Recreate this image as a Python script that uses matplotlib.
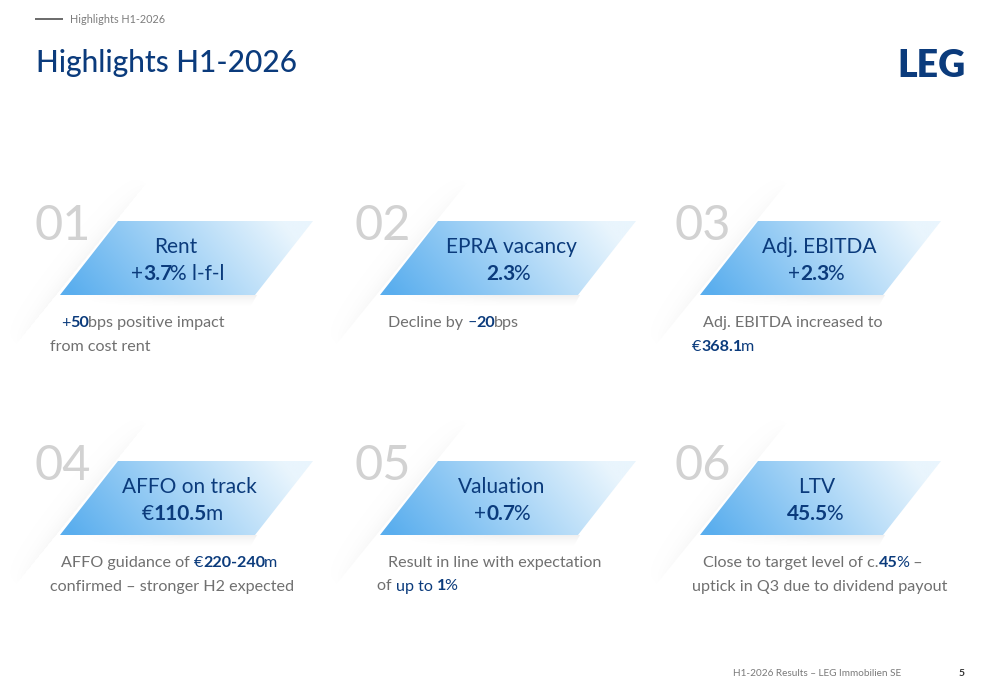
import numpy as np
import matplotlib
matplotlib.use("Agg")
import matplotlib.pyplot as plt
from matplotlib.patches import Polygon
from matplotlib.colors import to_rgb

# ---- slide content ----
card_numbers = ["01", "02", "03", "04", "05", "06"]
card_titles = ["Rent", "EPRA vacancy", "Adj. EBITDA", "AFFO on track", "Valuation", "LTV"]
value_prefix = ["+", "", "+", "€", "+", ""]
card_values = ["3.7", "2.3", "2.3", "110.5", "0.7", "45.5"]
value_suffix = ["% l-f-l", "%", "%", "m", "%", "%"]

# note lines: list of (text, style) runs; g = grey, n = navy, b = navy bold
card_notes = [
    [[("+", "n"), ("50", "b"), ("bps positive impact", "g")],
     [("from cost rent", "g")]],
    [[("Decline by ", "g"), ("–", "n"), ("20", "b"), ("bps", "g")]],
    [[("Adj. EBITDA increased to", "g")],
     [("€", "n"), ("368.1", "b"), ("m", "n")]],
    [[("AFFO guidance of ", "g"), ("€", "n"), ("220-240", "b"), ("m", "n")],
     [("confirmed – stronger H2 expected", "g")]],
    [[("Result in line with expectation", "g")],
     [("of ", "g"), ("up to ", "n"), ("1", "b"), ("%", "n")]],
    [[("Close to target level of c.", "g"), ("45", "b"), ("%", "n"), (" –", "g")],
     [("uptick in Q3 due to dividend payout", "g")]],
]

header_text = "Highlights H1-2026"
footer_text = "H1-2026 Results – LEG Immobilien SE"
page_no = "5"

# ---- layout (pixel coords, y down) ----
W, H = 1000, 685
col_dx = [0, 320, 640]
row_dy = [0, 240]
card_w = [195, 198, 183]
title_cx = [176, 511, 819, 189, 502, 817]
value_cx = [178, 508, 816, 182, 502, 815]
note_x = [50, 377, 692]

FONT = ["Lato", "DejaVu Sans"]
NAVY = "#0b3b7c"
GREY = "#707070"
NUMGREY = "#d2d2d2"
BLUE_DARK = "#5aaeee"
BLUE_LIGHT = "#e9f5fd"

fig = plt.figure(figsize=(10, 6.85), dpi=100)
ax = fig.add_axes([0, 0, 1, 1])
renderer = fig.canvas.get_renderer()

STYLES = {
    "g": dict(color=GREY, fontweight="normal"),
    "n": dict(color=NAVY, fontweight="normal"),
    "b": dict(color=NAVY, fontweight="bold"),
}


def run_width(s, **kw):
    # measure with guard bars so leading/trailing spaces count
    t = ax.text(0, 0, "|" + s + "|", **kw)
    bar = ax.text(0, 0, "||", **kw)
    w = t.get_window_extent(renderer).width - bar.get_window_extent(renderer).width
    t.remove()
    bar.remove()
    return w


def draw_runs(runs, x, y, size, center=False):
    kws = [dict(family=FONT, fontsize=size, **STYLES[st]) for _, st in runs]
    widths = [run_width(s, **kw) for (s, _), kw in zip(runs, kws)]
    # Lato digits are tabular: tighten the gap after bold figures
    for j, (s, st) in enumerate(runs[:-1]):
        if st == "b" and s[-1].isdigit():
            widths[j] -= 0.13 * size
    if center:
        x = x - sum(widths) / 2
    for (s, _), kw, w in zip(runs, kws, widths):
        ax.text(x, y, s, ha="left", va="baseline", zorder=3, **kw)
        x += w


def gradient_patch(verts, rgba_fn, zorder=1):
    verts = np.asarray(verts, float)
    x0, y0 = verts.min(axis=0)
    x1, y1 = verts.max(axis=0)
    nx, ny = int(x1 - x0) + 2, int(y1 - y0) + 2
    X, Y = np.meshgrid(np.linspace(x0, x1, nx), np.linspace(y0, y1, ny))
    img = rgba_fn(X, Y, x0, x1, y0, y1)
    im = ax.imshow(img, extent=(x0, x1, y1, y0), origin="upper",
                   interpolation="bilinear", aspect="auto", zorder=zorder)
    clip = Polygon(verts, closed=True, facecolor="none", edgecolor="none",
                   transform=ax.transData)
    ax.add_patch(clip)
    im.set_clip_path(clip)


def blue_fill(X, Y, x0, x1, y0, y1):
    u = (X - x0) / (x1 - x0)
    v = (Y - y0) / (y1 - y0)
    t = np.clip(0.95 * u + 0.22 * (1 - v) - 0.05, 0, 1)
    c0 = np.array(to_rgb(BLUE_DARK))
    c1 = np.array(to_rgb(BLUE_LIGHT))
    rgb = c0[None, None, :] * (1 - t[..., None]) + c1[None, None, :] * t[..., None]
    return np.dstack([rgb, np.ones_like(u)])


def shadow_fill(X, Y, x0, x1, y0, y1):
    u = (X - x0) / (x1 - x0)
    v = (Y - y0) / (y1 - y0)
    a = 0.12 * (1 - v) ** 2 * np.clip(2.0 * u - 0.3, 0, 1)
    g = np.full_like(u, 0.5)
    return np.dstack([g, g, g, a])


def make_streak(p0, p1):
    p0, p1 = np.array(p0, float), np.array(p1, float)
    L = np.linalg.norm(p1 - p0)
    t = (p1 - p0) / L
    n = np.array([-t[1], t[0]])
    if n[0] > 0:
        n = -n

    def fill(X, Y, x0, x1, y0, y1):
        d = (X - p0[0]) * n[0] + (Y - p0[1]) * n[1]
        s = ((X - p0[0]) * t[0] + (Y - p0[1]) * t[1]) / L
        a = 0.08 * np.exp(-np.clip(d, 0, None) / 8) * np.clip(np.sin(np.pi * s), 0, 1) ** 0.6
        a[d < 0] = 0
        g = np.full_like(X, 0.55)
        return np.dstack([g, g, g, a])

    verts = [p0, p1, p1 + 30 * n, p0 + 30 * n]
    return verts, fill


# ---- header ----
ax.plot([35, 63], [19, 19], color="#5f5f5f", lw=1.3, solid_capstyle="butt")
ax.text(70, 19, header_text, family=FONT, fontsize=7.8, color="#7d7d7d",
        ha="left", va="center")
ax.text(36, 72, header_text, family=FONT, fontsize=21.5, color=NAVY,
        ha="left", va="baseline", fontweight="medium")
ax.text(932, 77, "LEG", family=FONT, fontsize=27, color=NAVY,
        ha="center", va="baseline", fontweight="heavy")

# ---- cards ----
for i in range(len(card_titles)):
    c, r = i % 3, i // 3
    dx, dy = col_dx[c], row_dy[r]
    w = card_w[c]

    # faint diagonal streak behind the card
    sv, sf = make_streak((147 + dx, 183 + dy), (16 + dx, 345 + dy))
    gradient_patch(sv, sf, zorder=0)

    # soft shadow under the band
    shadow = [(60 + dx, 295 + dy), (62 + w + dx, 295 + dy),
              (54 + w + dx, 309 + dy), (52 + dx, 309 + dy)]
    gradient_patch(shadow, shadow_fill, zorder=0.5)

    band = [(118 + dx, 221 + dy), (118 + w + dx, 221 + dy),
            (60 + w + dx, 295 + dy), (60 + dx, 295 + dy)]
    gradient_patch(band, blue_fill, zorder=1)

    ax.text(35 + dx, 240 + dy, card_numbers[i], family=FONT, fontsize=35,
            color=NUMGREY, ha="left", va="baseline", fontweight="normal", zorder=2)

    draw_runs([(card_titles[i], "n")], title_cx[i], 253 + dy, 15, center=True)
    draw_runs([(value_prefix[i], "n"), (card_values[i], "b"), (value_suffix[i], "n")],
              value_cx[i], 280 + dy, 15, center=True)

    for k, line in enumerate(card_notes[i]):
        x = note_x[c] + (11 if k == 0 else 0)
        draw_runs(line, x, 327 + dy + 23.5 * k, 11.6)

# ---- footer ----
ax.text(901, 673, footer_text, family=FONT, fontsize=7.2, color="#7a7a7a",
        ha="right", va="center")
ax.text(962, 673, page_no, family=FONT, fontsize=7.5, color="#333333",
        ha="center", va="center", fontweight="bold")

ax.set_xlim(0, W)
ax.set_ylim(H, 0)
ax.axis("off")
fig.savefig("out.png", dpi=100, facecolor="white")
